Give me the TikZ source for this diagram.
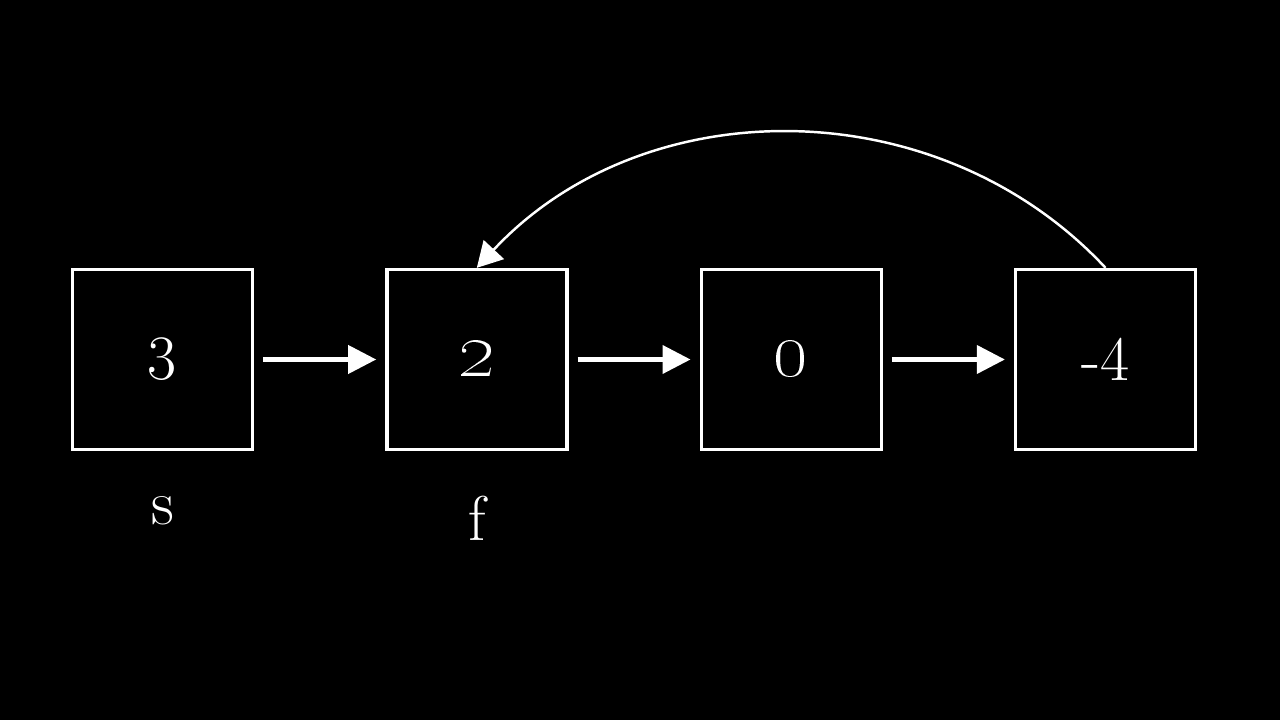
\documentclass[tikz,border=0pt]{standalone}
\usepackage{tikz}
\usetikzlibrary{arrows.meta,positioning}
\newcommand{\osnum}[1]{\scalebox{1.3}{\oldstylenums{#1}}}

\begin{document}
\begin{tikzpicture}[
			node distance=2.62cm,
			cell/.style={draw=white,line width=1.9pt,minimum size=3.6cm,inner sep=0pt,text=white,font=\fontsize{36}{40}\selectfont},
			lbl/.style={inner sep=0pt,text=white,font=\fontsize{36}{40}\selectfont},
			arr/.style={-{Triangle[length=0.56cm,width=0.56cm]},white,line width=2.3pt,shorten <=0.18cm,shorten >=0.18cm},
			back/.style={-{Triangle[length=0.5cm,width=0.55cm]},white,line width=1.4pt}
			]
			\fill[black] (0,0) rectangle (25.6,14.4);
			\node[cell] (n1) at (3.25,7.21) {3};
			\node[cell] (n2) [right=of n1] {\osnum{2}};
			\node[cell] (n3) [right=of n2] {\osnum{0}};
			\node[cell] (n4) [right=of n3] {-4};
			\node[lbl] (s) [below=0.9cm of n1] {s};
			\node[lbl] (f) [below=0.9cm of n2] {f};
			\draw[arr] (n1)--(n2);
			\draw[arr] (n2)--(n3);
			\draw[arr] (n3)--(n4);
			\draw[back] (n4.north) to[out=133,in=47] (n2.north);
		\end{tikzpicture}
\end{document}
